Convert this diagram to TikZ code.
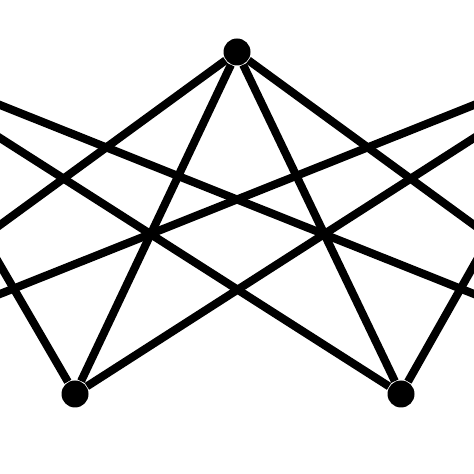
\documentclass[tikz,border=0pt]{standalone}
\begin{document}
\begin{tikzpicture}[
	vertex/.style={circle,fill=black,inner sep=0pt,minimum size=0.27cm},
	edge/.style={line width=2.3pt,draw=black},
	cutedge/.style={edge,shorten >=-4mm,shorten <=-4mm}
]
%\draw[help lines] (0,0) grid (4.74,4.74);
	\useasboundingbox (0,0) rectangle (4.74,4.74);
	\clip (0,0) rectangle (4.74,4.74);

	\node[vertex] (top) at (2.37,4.22) {};
	\node[vertex] (left) at (0.75,0.80) {};
	\node[vertex] (right) at (4.01,0.80) {};

	\coordinate (w1) at (0,3.69);
	\coordinate (w2) at (0,3.36);
	\coordinate (w3) at (0,2.49);
	\coordinate (w4) at (0,2.09);
	\coordinate (w5) at (0,1.80);
	\coordinate (e1) at (4.74,3.69);
	\coordinate (e2) at (4.74,3.36);
	\coordinate (e3) at (4.74,2.49);
	\coordinate (e4) at (4.74,2.09);
	\coordinate (e5) at (4.74,1.80);

	\draw[edge] (top) -- (left);
	\draw[edge] (top) -- (right);
	\draw[cutedge,shorten <=0pt] (top) -- (w3);
	\draw[cutedge,shorten <=0pt] (top) -- (e3);
	\draw[cutedge,shorten <=0pt] (left) -- (e2);
	\draw[cutedge,shorten <=0pt] (right) -- (w2);
	\draw[cutedge,shorten <=0pt] (left) -- (w4);
	\draw[cutedge,shorten <=0pt] (right) -- (e4);
	\draw[cutedge] (w1) -- (e5);
	\draw[cutedge] (e1) -- (w5);
\end{tikzpicture}
\end{document}
